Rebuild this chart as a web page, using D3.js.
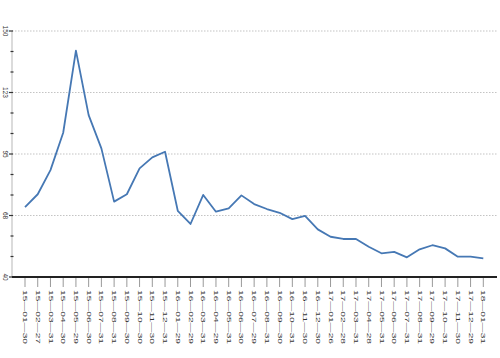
<!DOCTYPE html>
<html><head><meta charset="utf-8">
<script src="https://cdn.jsdelivr.net/npm/d3@7"></script>
<style>body{margin:0;background:#fff;}svg{display:block;}</style>
</head><body>
<svg id="c" width="500" height="358"></svg>
<script>
const dates = ["15-01-30","15-02-27","15-03-31","15-04-30","15-05-29","15-06-30","15-07-31","15-08-31","15-09-30","15-10-30","15-11-30","15-12-31","16-01-29","16-02-29","16-03-31","16-04-29","16-05-31","16-06-30","16-07-29","16-08-31","16-09-30","16-10-31","16-11-30","16-12-30","17-01-26","17-02-28","17-03-31","17-04-28","17-05-31","17-06-30","17-07-31","17-08-31","17-09-29","17-10-31","17-11-30","17-12-29","18-01-31"];
const values = [71.2,77.0,87.8,104.5,141.2,112.4,97.5,73.7,77.0,88.6,93.5,96.0,69.6,63.7,76.7,69.2,70.7,76.5,72.6,70.4,68.7,65.9,67.3,61.3,58.0,57.0,57.0,53.5,50.6,51.2,48.8,52.4,54.2,52.8,49.1,49.1,48.3];
const yTicks = [40,67.5,95,122.5,150];
const yTickLabels = ["40","68","95","123","150"];

const svg = d3.select("#c");
const x = d3.scalePoint().domain(dates).range([25,483.3]);
const y = d3.scaleLinear().domain([40,150]).range([277,31]);
const x0 = 12, x1 = 497;

// gridlines
svg.append("g").selectAll("line").data(yTicks.filter(d=>d>40)).join("line")
  .attr("x1",x0).attr("x2",x1).attr("y1",d=>y(d)).attr("y2",d=>y(d))
  .attr("stroke","#c4c4c4").attr("stroke-width",1.2).attr("stroke-dasharray","1.5,1.5");

// y axis line
svg.append("line").attr("x1",x0).attr("x2",x0).attr("y1",y(150)).attr("y2",y(40))
  .attr("stroke","#cfcfcf").attr("stroke-width",1.5);

// minor ticks
const minor = [];
for (let i=0;i<yTicks.length-1;i++){ const s=(yTicks[i+1]-yTicks[i])/3; minor.push(yTicks[i]+s, yTicks[i]+2*s); }
svg.append("g").selectAll("line").data(minor).join("line")
  .attr("x1",x0-1.5).attr("x2",x0+1.5).attr("y1",d=>y(d)).attr("y2",d=>y(d))
  .attr("stroke","#333").attr("stroke-width",1.2);
// major ticks
svg.append("g").selectAll("line").data(yTicks).join("line")
  .attr("x1",x0-3).attr("x2",x0+1).attr("y1",d=>y(d)).attr("y2",d=>y(d))
  .attr("stroke","#333").attr("stroke-width",1.2);
// y labels
svg.append("g").selectAll("text").data(yTicks).join("text")
  .attr("transform",d=>`translate(5,${y(d)}) rotate(90)`)
  .attr("text-anchor","middle").attr("dy","0.35em")
  .attr("font-family","Liberation Sans Narrow, Liberation Sans, sans-serif").attr("font-size",6.5)
  .attr("fill","#333")
  .text((d,i)=>yTickLabels[i]);

// x ticks
svg.append("g").selectAll("line").data(dates).join("line")
  .attr("x1",d=>x(d)).attr("x2",d=>x(d)).attr("y1",277).attr("y2",287)
  .attr("stroke","#999").attr("stroke-width",1);
// x axis line
svg.append("line").attr("x1",x0).attr("x2",x1).attr("y1",277).attr("y2",277)
  .attr("stroke","#222").attr("stroke-width",2);
// x labels
svg.append("g").selectAll("text").data(dates).join("text")
  .attr("transform",d=>`translate(${x(d)},290) rotate(90)`)
  .attr("text-anchor","start").attr("dy","0.35em")
  .attr("font-family","Liberation Sans Narrow, Liberation Sans, sans-serif").attr("font-size",5.5)
  .attr("fill","#333")
  .attr("textLength",54).attr("lengthAdjust","spacingAndGlyphs")
  .text(d=>d.replace(/-/g,"—"));

// line
const line = d3.line().x((d,i)=>x(dates[i])).y(d=>y(d));
svg.append("path").datum(values).attr("d",line)
  .attr("fill","none").attr("stroke","#4678b4").attr("stroke-width",1.8)
  .attr("stroke-linejoin","round");
</script>
</body></html>
